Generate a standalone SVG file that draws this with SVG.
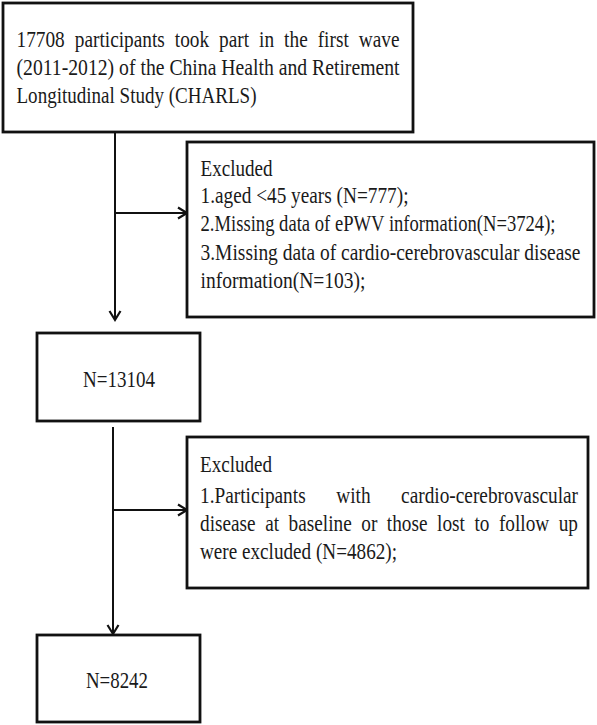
<svg xmlns="http://www.w3.org/2000/svg" width="597" height="725" viewBox="0 0 597 725">
<defs>
<style>
.box{fill:#fff;stroke:#111;stroke-width:2.8}
.t{font-family:"Liberation Serif","Times New Roman",serif;font-size:22.5px;fill:#1a1a1a}
.c{text-anchor:middle}
.ln{stroke:#111;stroke-width:2;fill:none}
</style>
<marker id="arr" markerUnits="userSpaceOnUse" markerWidth="14" markerHeight="14" refX="11" refY="7" orient="auto">
<path d="M2,1.5 L11,7 L2,12.5" fill="none" stroke="#111" stroke-width="2.2"/>
</marker>
</defs>
<rect width="597" height="725" fill="#fff"/>
<g id="connectors">
<line class="ln" x1="115" y1="133" x2="115" y2="320" marker-end="url(#arr)"/>
<line class="ln" x1="115" y1="213" x2="187" y2="213" marker-end="url(#arr)"/>
<line class="ln" x1="113" y1="427" x2="113" y2="634" marker-end="url(#arr)"/>
<line class="ln" x1="113" y1="510" x2="187" y2="510" marker-end="url(#arr)"/>
</g>
<g id="start">
<rect class="box" x="3" y="3" width="410" height="129"/>
<text class="t" x="16.5" y="47" textLength="383" lengthAdjust="spacingAndGlyphs" word-spacing="6">17708 participants took part in the first wave</text>
<text class="t" x="16.5" y="75" textLength="383" lengthAdjust="spacingAndGlyphs">(2011-2012) of the China Health and Retirement</text>
<text class="t" x="16.5" y="103" textLength="240" lengthAdjust="spacingAndGlyphs">Longitudinal Study (CHARLS)</text>
</g>
<g id="excluded1">
<rect class="box" x="187" y="142" width="407" height="175"/>
<text class="t" x="200.5" y="175.5" textLength="72" lengthAdjust="spacingAndGlyphs">Excluded</text>
<text class="t" x="200.5" y="203" textLength="208" lengthAdjust="spacingAndGlyphs">1.aged &lt;45 years (N=777);</text>
<text class="t" x="200.5" y="231" textLength="355" lengthAdjust="spacingAndGlyphs">2.Missing data of ePWV information(N=3724);</text>
<text class="t" x="200.5" y="259.5" textLength="380" lengthAdjust="spacingAndGlyphs">3.Missing data of cardio-cerebrovascular disease</text>
<text class="t" x="200.5" y="288" textLength="165" lengthAdjust="spacingAndGlyphs">information(N=103);</text>
</g>
<g id="n13104">
<rect class="box" x="37" y="333" width="163" height="88"/>
<text class="t c" x="119" y="387" textLength="72" lengthAdjust="spacingAndGlyphs">N=13104</text>
</g>
<g id="excluded2">
<rect class="box" x="187" y="437" width="401" height="151"/>
<text class="t" x="200" y="472" textLength="72" lengthAdjust="spacingAndGlyphs">Excluded</text>
<text class="t" x="200" y="502.5" textLength="378" lengthAdjust="spacingAndGlyphs" word-spacing="30">1.Participants with cardio-cerebrovascular</text>
<text class="t" x="200" y="531" textLength="378" lengthAdjust="spacingAndGlyphs" word-spacing="5.5">disease at baseline or those lost to follow up</text>
<text class="t" x="200" y="559" textLength="197" lengthAdjust="spacingAndGlyphs">were excluded (N=4862);</text>
</g>
<g id="n8242">
<rect class="box" x="37" y="635" width="163" height="87"/>
<text class="t c" x="117" y="688" textLength="62" lengthAdjust="spacingAndGlyphs">N=8242</text>
</g>
</svg>
